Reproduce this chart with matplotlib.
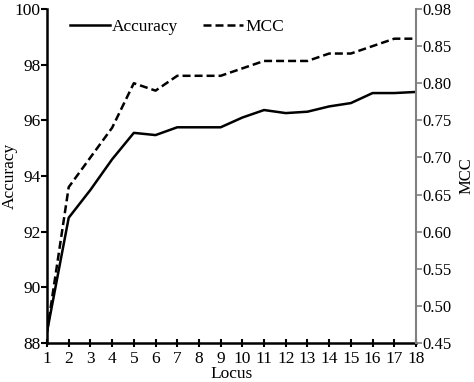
import matplotlib
matplotlib.use("Agg")
import matplotlib.pyplot as plt
import numpy as np

plt.rcParams['font.family'] = ['Liberation Serif', 'DejaVu Serif']

locus = list(range(1, 19))
accuracy = [88.4, 92.5, 93.5, 94.6, 95.55, 95.47, 95.75, 95.75, 95.75, 96.1,
            96.37, 96.26, 96.31, 96.5, 96.62, 96.98, 96.98, 97.02]
mcc = [0.465, 0.66, 0.70, 0.74, 0.80, 0.79, 0.81, 0.81, 0.81, 0.82,
       0.83, 0.83, 0.83, 0.84, 0.84, 0.85, 0.86, 0.86]
acc_ticks = [88, 90, 92, 94, 96, 98, 100]
mcc_ticks = [0.45, 0.50, 0.55, 0.60, 0.65, 0.70, 0.75, 0.80, 0.85, 0.90]
mcc_labels = ['0.45', '0.50', '0.55', '0.60', '0.65', '0.70', '0.75', '0.80', '0.85', '0.98']

fig = plt.figure(figsize=(4.74, 3.82), dpi=100)
ax = fig.add_axes([47 / 474, 1 - 343 / 382, (416 - 47) / 474, (343 - 9) / 382])
ax2 = ax.twinx()

l1, = ax.plot(locus, accuracy, color='black', lw=1.8, label='Accuracy')
l2, = ax2.plot(locus, mcc, color='black', lw=1.8, ls=(0, (3.2, 1.6)), label='MCC')

ax.set_xlim(1, 18)
ax.set_ylim(88, 100)
ax2.set_ylim(0.45, 0.90)
ax.set_xticks(locus)
ax.set_yticks(acc_ticks)
ax2.set_yticks(mcc_ticks)
ax2.set_yticklabels(mcc_labels)

for a in (ax, ax2):
    a.spines['top'].set_visible(False)
ax.spines['left'].set_linewidth(1.8)
ax.spines['bottom'].set_linewidth(1.8)
ax.spines['right'].set_visible(False)
ax2.spines['left'].set_visible(False)
ax2.spines['bottom'].set_visible(False)
ax2.spines['right'].set_color('#808080')
ax2.spines['right'].set_linewidth(1.5)

ax.tick_params(axis='y', direction='out', length=4, width=1.5, labelsize=12.5, pad=0.5)
ax.tick_params(axis='x', direction='inout', length=6, width=1.5, labelsize=12.5, pad=3)
ax2.tick_params(axis='y', direction='out', length=4, width=1.2, color='#808080', labelsize=12, pad=0.5)

ax.set_xlabel('Locus', fontsize=12.5)
ax.set_ylabel('Accuracy', fontsize=12.5)
ax2.set_ylabel('MCC', fontsize=12)
ax.xaxis.set_label_coords(0.5, -0.07)
ax.yaxis.set_label_coords(-0.078, 0.5)
ax2.yaxis.set_label_coords(1.114, 0.5)

ax.legend(handles=[l1, l2], loc='center', bbox_to_anchor=(0.352, 0.945), ncol=2,
          frameon=False, fontsize=12.5, handlelength=2.3, handletextpad=0.15,
          columnspacing=1.4)

fig.savefig('out.png', dpi=100)
